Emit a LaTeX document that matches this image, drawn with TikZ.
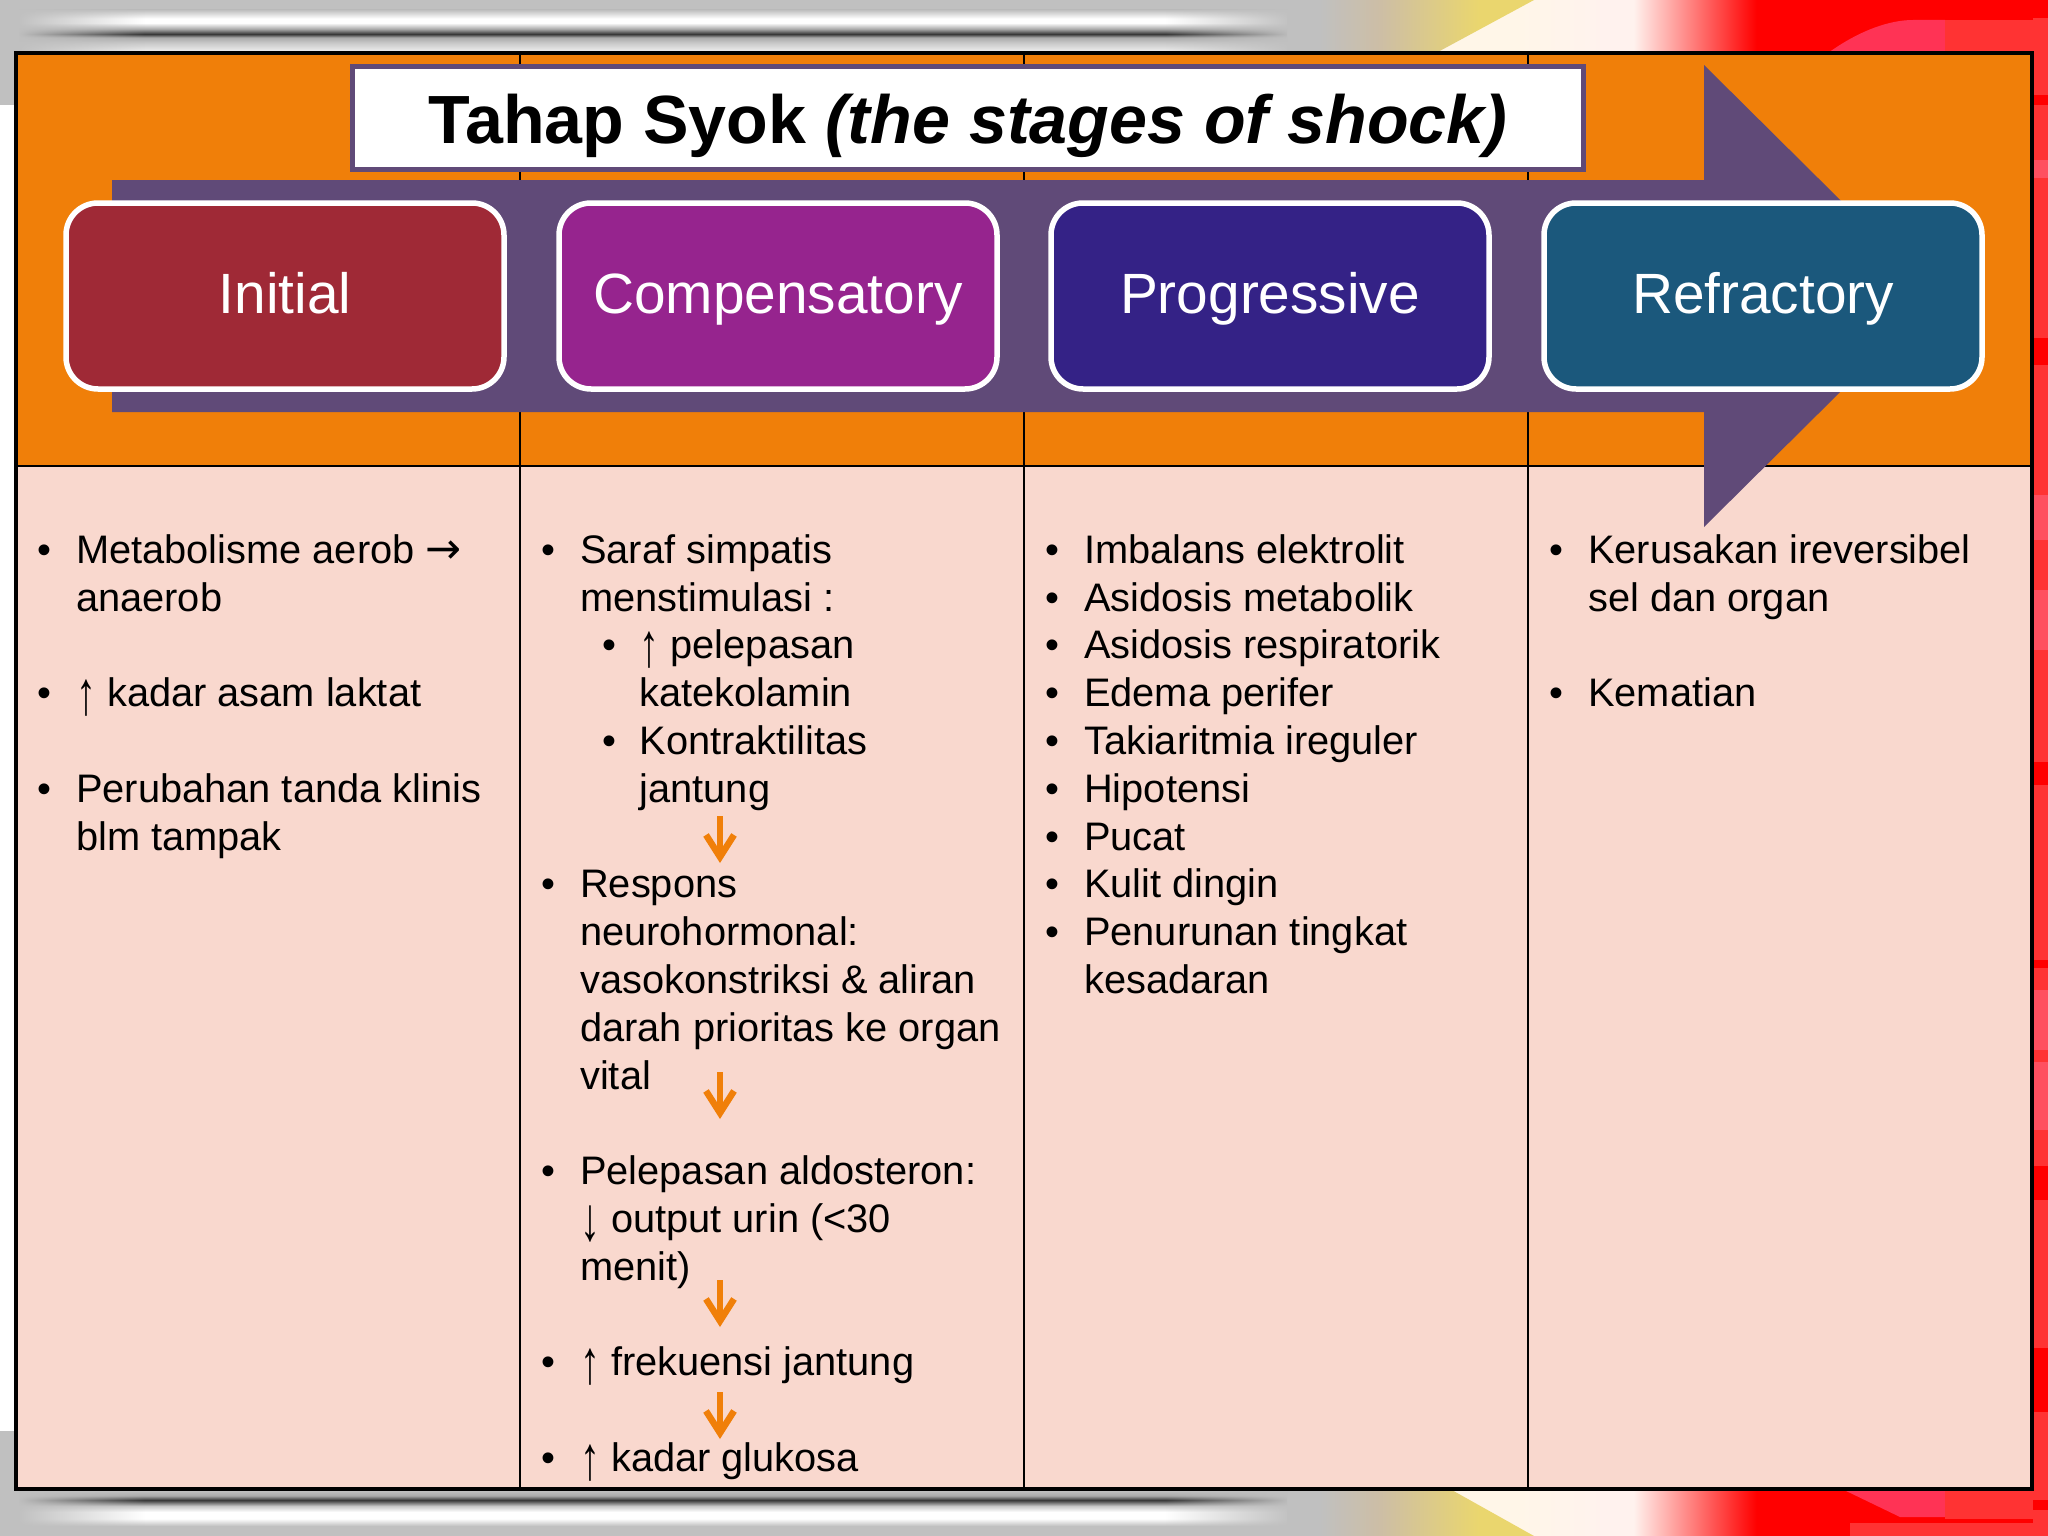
\documentclass[tikz,border=0pt]{standalone}
\usepackage{fontspec}
\usepackage{graphicx}
\setmainfont{Liberation Sans}
\newfontfamily\arrowfont{DejaVu Sans}
\usetikzlibrary{arrows.meta,fadings}
\definecolor{hdrorange}{HTML}{F07F09}
\definecolor{cellpink}{HTML}{F9D8CE}
\definecolor{flowpurple}{HTML}{604A78}
\definecolor{boxinitial}{HTML}{9F2936}
\definecolor{boxcomp}{HTML}{96248E}
\definecolor{boxprog}{HTML}{342286}
\definecolor{boxrefr}{HTML}{1B587C}
\definecolor{bggray}{RGB}{192,192,192}
\definecolor{bgred}{HTML}{FF3333}
\definecolor{bgpink}{HTML}{FF3355}
\definecolor{bglight}{HTML}{FF5060}
\definecolor{hA}{RGB}{255,246,232}
\definecolor{hB}{RGB}{255,242,238}
\definecolor{hC}{RGB}{255,0,0}
\definecolor{dA}{RGB}{205,190,165}
\definecolor{dB}{RGB}{234,214,110}
% TikZ fits the middle 25bp..75bp of a shading to the bounding box
\pgfdeclarehorizontalshading{leftband}{100bp}{
  color(0bp)=(bggray); color(68bp)=(bggray); color(70bp)=(dA); color(73.2bp)=(dB); color(100bp)=(dB)}
\pgfdeclarehorizontalshading{redband}{100bp}{
  color(0bp)=(hA); color(34bp)=(hA); color(41bp)=(hB); color(43bp)=(hB); color(52.5bp)=(hC); color(100bp)=(hC)}
\definecolor{s1}{RGB}{245,245,245}
\definecolor{s2}{RGB}{170,170,170}
\definecolor{s3}{RGB}{55,55,55}
\definecolor{s4}{RGB}{200,200,200}
% top streak, low values at the lower end
\pgfdeclareverticalshading{topstreak}{100bp}{
  color(0bp)=(s1); color(25bp)=(s1); color(37bp)=(s4); color(43bp)=(s2); color(47bp)=(s3); color(53bp)=(s2);
  color(60bp)=(white); color(65bp)=(white); color(75bp)=(bggray); color(100bp)=(bggray)}
\pgfdeclareverticalshading{botstreak}{100bp}{
  color(0bp)=(bggray); color(25bp)=(bggray); color(35bp)=(white); color(44bp)=(white); color(52bp)=(s4);
  color(60bp)=(s3); color(66bp)=(s2); color(75bp)=(s4); color(100bp)=(s4)}
\pgfdeclarehorizontalshading{endfadeshade}{100bp}{
  color(0bp)=(pgftransparent!100); color(25bp)=(pgftransparent!100); color(30bp)=(pgftransparent!0);
  color(70bp)=(pgftransparent!0); color(75bp)=(pgftransparent!100); color(100bp)=(pgftransparent!100)}
\pgfdeclarefading{endfade}{\pgfuseshading{endfadeshade}}
\tikzset{
  headcell/.style={fill=hdrorange,draw=black,line width=2.5pt},
  bodycell/.style={fill=cellpink,draw=black,line width=2.5pt},
  stagebox/.style={draw=white,line width=5.5pt,rounded corners=32pt,minimum width=438pt,minimum height=186pt,
    text=white,font=\fontsize{56.8}{60}\selectfont,text height=44pt,text depth=10pt,inner sep=0pt},
  titlebox/.style={draw=flowpurple,fill=white,line width=5pt,minimum width=1231pt,minimum height=103pt,
    font=\fontsize{68.2}{70}\selectfont\bfseries,text height=62pt,text depth=12pt,inner sep=0pt},
  itemtext/.style={anchor=base west,inner sep=0pt,text=black,font=\fontsize{39.8}{47.8}\selectfont},
  flowarrow/.style={draw=hdrorange,line width=6.5pt,-{Straight Barb[length=22pt,width=28pt,line width=6.5pt]}}
}
\newcommand{\listentry}[4]{\node[itemtext] (#1) at (#2,{563.3+47.8*#3}) {\parbox[t]{470pt}{\raggedright\leavevmode\llap{\textbullet\hspace{24.3pt}}#4}};}
\newcommand{\nestentry}[4]{\node[itemtext] (#1) at (#2,{563.3+47.8*#3}) {\parbox[t]{420pt}{\raggedright\leavevmode\llap{\textbullet\hspace{23pt}}#4}};}
\newcommand{\upa}{\raisebox{-8pt}{\scalebox{1}[1.55]{↑}}}
\newcommand{\dna}{\raisebox{-8pt}{\scalebox{1}[1.55]{↓}}}
\begin{document}
\begin{tikzpicture}[x=1pt,y=-1pt]
\useasboundingbox (0,0) rectangle (2048,1536);
% background
\fill[white] (0,0) rectangle (2048,1536);
\fill[bggray] (0,0) rectangle (16,105);
\fill[bggray] (0,1431) rectangle (16,1536);
\shade[shading=redband] (1400,0) rectangle (2048,53);
\shade[shading=redband] (1400,1489) rectangle (2048,1536);
\shade[shading=leftband] (0,0) -- (1534,0) -- (1436,53) -- (0,53) -- cycle;
\shade[shading=leftband] (0,1489) -- (1450,1489) -- (1534,1536) -- (0,1536) -- cycle;
\shade[shading=topstreak,path fading=endfade,fit fading=true] (20,10) rectangle (1290,53);
\shade[shading=botstreak,path fading=endfade,fit fading=true] (20,1489) rectangle (1290,1526);
\fill[bgpink] (1828,53) .. controls (1860,30) and (1890,20) .. (1913,20) -- (1945,20) -- (1945,53) -- cycle;
\fill[bgred] (1945,20) rectangle (2048,53);
\fill[bgpink] (1842,1489) -- (1900,1517) -- (1945,1517) -- (1945,1489) -- cycle;
\fill[bgred] (1945,1489) rectangle (2048,1520);
\fill[bgred] (1850,1523) rectangle (2048,1536);
\fill[hC] (1850,1519) rectangle (2048,1523);
% right edge stripes
\fill[bgred] (2033,18) rectangle (2048,1536);
\foreach \ya/\yb in {95/105,338/365,762/785,960/968,1166/1200,1348/1412,1500/1510}
  \fill[hC] (2033,\ya) rectangle (2048,\yb);
\foreach \ya/\yb in {160/178,495/540,590/650,990/1050,1062/1130}
  \fill[bglight] (2033,\ya) rectangle (2048,\yb);
% table
\foreach \xa/\xb in {16/520,520/1024,1024/1528,1528/2032}{
  \path[headcell] (\xa,53) rectangle (\xb,466);
  \path[bodycell] (\xa,466) rectangle (\xb,1489);
}
\draw[black,line width=3.5pt] (16,53) rectangle (2032,1489);
% big arrow
\fill[flowpurple] (112,180) -- (1704,180) -- (1704,65) -- (1937,296) -- (1704,527) -- (1704,412) -- (112,412) -- cycle;
% title
\node[titlebox] (title) at (968,118) {Tahap Syok \textit{(the stages of shock)}};
% stage boxes
\node[stagebox,fill=boxinitial] (initial) at (285,296) {Initial};
\node[stagebox,fill=boxcomp] (compensatory) at (778,296) {Compensatory};
\node[stagebox,fill=boxprog] (progressive) at (1270,296) {Progressive};
\node[stagebox,fill=boxrefr] (refractory) at (1763,296) {Refractory};
% column 1
\listentry{aa}{76}{0}{Metabolisme aerob {\arrowfont\fontsize{43}{47.8}\selectfont →}\\anaerob}
\listentry{ab}{76}{3}{\upa{} kadar asam laktat}
\listentry{ac}{76}{5}{Perubahan tanda klinis\\blm tampak}
% column 2
\listentry{ba}{580}{0}{Saraf simpatis\\menstimulasi :}
\nestentry{bb}{639.5}{2}{\upa{} pelepasan\\katekolamin}
\nestentry{bc}{639.5}{4}{Kontraktilitas\\jantung}
\listentry{bd}{580}{7}{Respons\\neurohormonal:\\vasokonstriksi \& aliran\\darah prioritas ke organ\\vital}
\listentry{be}{580}{13}{Pelepasan aldosteron:\\\dna{} output urin (<30\\menit)}
\listentry{bf}{580}{17}{\upa{} frekuensi jantung}
\listentry{bg}{580}{19}{\upa{} kadar glukosa}
% column 3
\listentry{ca}{1084}{0}{Imbalans elektrolit}
\listentry{cb}{1084}{1}{Asidosis metabolik}
\listentry{cc}{1084}{2}{Asidosis respiratorik}
\listentry{cd}{1084}{3}{Edema perifer}
\listentry{ce}{1084}{4}{Takiaritmia ireguler}
\listentry{cf}{1084}{5}{Hipotensi}
\listentry{cg}{1084}{6}{Pucat}
\listentry{ch}{1084}{7}{Kulit dingin}
\listentry{ci}{1084}{8}{Penurunan tingkat\\kesadaran}
% column 4
\listentry{da}{1588}{0}{Kerusakan ireversibel\\sel dan organ}
\listentry{db}{1588}{3}{Kematian}
% orange arrows
\coordinate (f1s) at (720,816); \coordinate (f1e) at (720,863);
\coordinate (f2s) at (720,1072); \coordinate (f2e) at (720,1119);
\coordinate (f3s) at (720,1280); \coordinate (f3e) at (720,1327);
\coordinate (f4s) at (720,1392); \coordinate (f4e) at (720,1439);
\draw[flowarrow] (f1s) -- (f1e);
\draw[flowarrow] (f2s) -- (f2e);
\draw[flowarrow] (f3s) -- (f3e);
\draw[flowarrow] (f4s) -- (f4e);
\end{tikzpicture}
\end{document}
